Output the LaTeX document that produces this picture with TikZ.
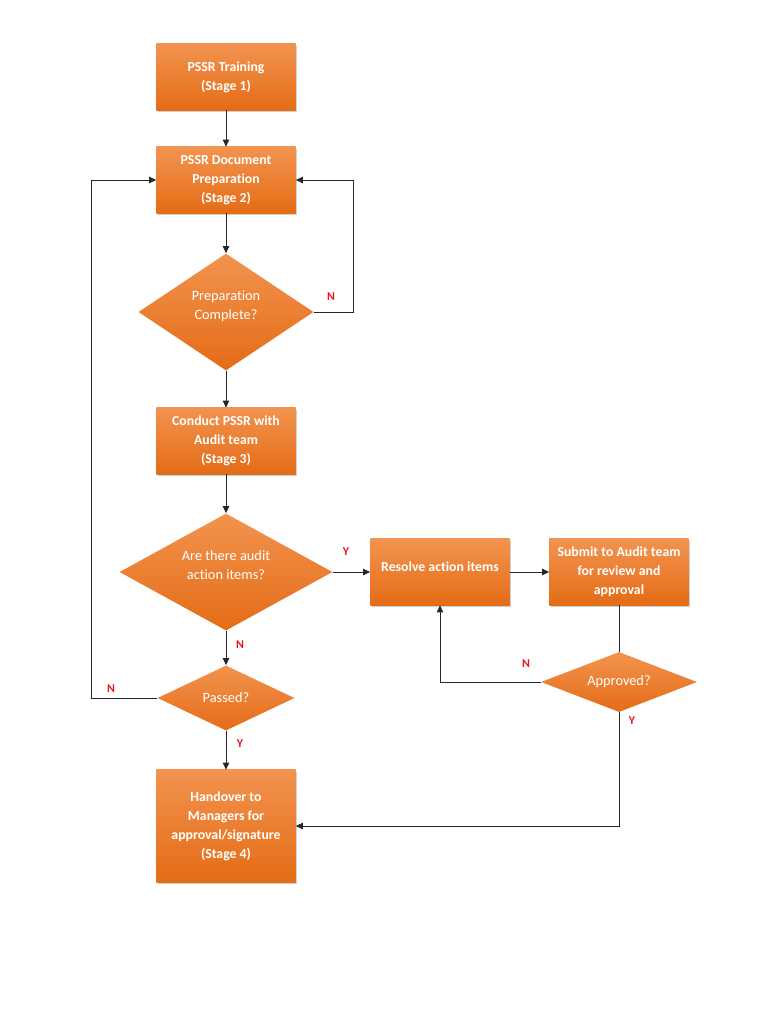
\documentclass[tikz,border=0pt]{standalone}
\usepackage{fontspec}
\setmainfont{Carlito}[Ligatures=NoCommon]
\usetikzlibrary{shapes.geometric,shadows,arrows.meta}

\definecolor{orlight}{HTML}{F2934F}
\definecolor{ordark}{HTML}{E46C16}
\definecolor{ynred}{HTML}{E8141B}

\begin{document}
\begin{tikzpicture}[x=0.025cm,y=-0.025cm,
    stagebox/.style={rectangle, top color=orlight, bottom color=ordark, draw=none,
      minimum width=3.475cm, minimum height=1.65cm, align=center, text=white,
      font=\fontsize{9.8}{13.5}\selectfont\bfseries,
      drop shadow={shadow xshift=1.2pt, shadow yshift=-1.5pt, opacity=0.3, fill=black!60}},
    decision/.style={diamond, top color=orlight, bottom color=ordark, draw=none,
      inner sep=0pt, align=center, text=white,
      font=\fontsize{10.2}{13.5}\selectfont},
    flow/.style={draw=black!85, line width=0.7pt, -{Triangle[length=5pt,width=4.5pt]}},
    link/.style={draw=black!85, line width=0.7pt},
    yn/.style={text=ynred, font=\fontsize{8.5}{10}\selectfont\bfseries}]
  \useasboundingbox (0,0) rectangle (768,1024);

% main column
  \node[stagebox] (train) at (226,77) {PSSR Training\\(Stage 1)};
  \node[stagebox] (prep) at (226,180) {PSSR Document\\Preparation\\(Stage 2)};
  \node[decision, aspect=1.5, minimum width=4.375cm, minimum height=2.925cm]
    (prepdone) at (226,312) {Preparation\\Complete?\\[-3pt]};
  \node[stagebox] (conduct) at (226,441) {Conduct PSSR with\\Audit team\\(Stage 3)};
  \node[decision, aspect=1.82, minimum width=5.325cm, minimum height=2.925cm]
    (items) at (226,572) {Are there audit\\action items?\\[-3pt]};
  \node[decision, aspect=2.1, minimum width=3.425cm, minimum height=1.625cm]
    (passed) at (226,698) {Passed?};
  \node[stagebox, minimum height=2.8cm] (handover) at (226,826)
    {Handover to\\Managers for\\approval/signature\\(Stage 4)};

% action item branch
  \node[stagebox] (resolve) at (440,572) {Resolve action items\\[-6pt]};
  \node[stagebox] (submit) at (619,572) {Submit to Audit team\\for review and\\approval};
  \node[decision, aspect=2.6, minimum width=3.9cm, minimum height=1.5cm]
    (approved) at (619,682) {Approved?};

% Y/N labels
  \node[yn] (nprep) at (331,297) {N};
  \node[yn] (yitems) at (346,552) {Y};
  \node[yn] (nitems) at (240,645) {N};
  \node[yn] (ypassed) at (240,744) {Y};
  \node[yn] (npassed) at (111,689) {N};
  \node[yn] (napproved) at (526,664) {N};
  \node[yn] (yapproved) at (632,721) {Y};

% connectors
  \draw[flow] (train) -- (prep);
  \draw[flow] (prep) -- (prepdone);
  \draw[flow] (prepdone.east) -- ++(40,0) |- (prep.east);
  \draw[flow] (prepdone) -- (conduct);
  \draw[flow] (conduct) -- (items);
  \draw[flow] (items) -- (resolve);
  \draw[flow] (resolve) -- (submit);
  \draw[link] (submit) -- (approved);
  \draw[flow] (approved.west) -| (resolve.south);
  \draw[flow] (approved.south) |- (handover.east);
  \draw[flow] (items) -- (passed);
  \draw[flow] (passed.west) -- ++(-66,0) |- (prep.west);
  \draw[flow] (passed) -- (handover);
\end{tikzpicture}
\end{document}
